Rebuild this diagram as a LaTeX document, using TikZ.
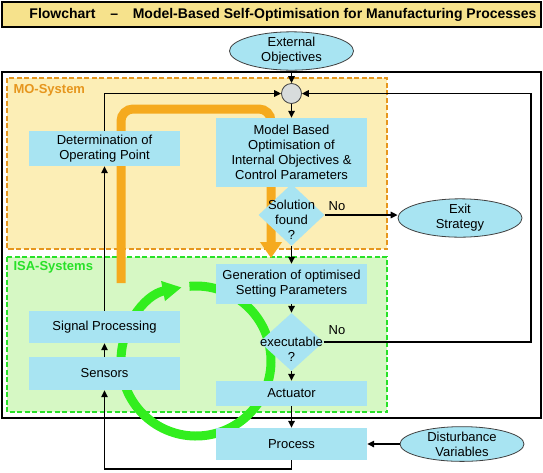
\documentclass[tikz,border=0pt]{standalone}
\usepackage{fontspec}
\setmainfont{Liberation Sans}
\usetikzlibrary{arrows.meta, shapes.geometric}
\definecolor{boxblue}{RGB}{168,228,242}
\definecolor{mofill}{RGB}{252,238,182}
\definecolor{moline}{RGB}{230,150,30}
\definecolor{isafill}{RGB}{214,248,196}
\definecolor{isaline}{RGB}{40,225,40}
\definecolor{titlefill}{RGB}{246,226,140}
\definecolor{orangebar}{RGB}{245,170,30}
\definecolor{greenarc}{RGB}{50,238,30}
\definecolor{sumgray}{RGB}{216,220,220}

\begin{document}
\begin{tikzpicture}[x=1pt, y=-1pt,
    every node/.style={font=\fontsize{13}{15}\selectfont, align=center},
    block/.style={rectangle, fill=boxblue, inner sep=0pt, minimum width=151pt},
    decision/.style={diamond, fill=boxblue, inner sep=0pt},
    terminal/.style={ellipse, draw=black!75, line width=0.8pt, fill=boxblue, inner sep=0pt, minimum width=124pt, minimum height=30pt},
    zone/.style={line width=1.3pt, dash pattern=on 5pt off 2.5pt},
    arr/.style={line width=1.5pt, -{Triangle[length=7pt, width=6.5pt]}}
  ]
  \useasboundingbox (0,0) rectangle (543,472);

  % frames
  \draw[line width=1.4pt, fill=titlefill] (2,2) rectangle (541,27);
  \node[font=\fontsize{14}{16}\selectfont\bfseries] (title) at (283,15)
    {Flowchart\hspace{1.05em}--\hspace{1.05em}Model-Based Self-Optimisation for Manufacturing Processes};
  \draw[line width=1.3pt] (2,72) rectangle (541,418);
  \draw[zone, draw=moline, fill=mofill] (7,78) rectangle (387,249);
  \draw[zone, draw=isaline, fill=isafill] (7,257) rectangle (387,412);
  \node[anchor=west, font=\fontsize{13}{15}\selectfont\bfseries, text=moline] (molabel) at (10,90) {MO-System};
  \node[anchor=west, font=\fontsize{13}{15}\selectfont\bfseries, text=isaline] (isalabel) at (10,267) {ISA-Systems};

  % big loop arrows
  \draw[orangebar, line width=9pt, rounded corners=12pt, -{Triangle[length=16pt, width=21pt]}]
    (121,283) -- (121,109) -- (271,109) -- (271,258);
  \draw[greenarc, line width=9pt, -{Triangle[length=19pt, width=19pt]}]
    (196,361) ++(-95:75) arc[start angle=-95, end angle=259, radius=75];

  % nodes
  \node[terminal] (ext) at (291.5,51) {External\\Objectives};
  \node[circle, draw=black!75, line width=0.8pt, fill=sumgray, inner sep=0pt, minimum size=20pt] (sum) at (291.5,93.5) {};
  \node[block, minimum height=69pt] (model) at (291.5,152.5)
    {Model Based\\Optimisation of\\Internal Objectives \&\\Control Parameters};
  \node[block, minimum height=35pt] (det) at (104.5,148.5) {Determination of\\Operating Point};
  \node[decision, minimum width=66pt, minimum height=62pt] (sol) at (291.5,215) {};
  \node (soltext) at (291.5,220) {Solution\\found\\?};
  \node[terminal] (exit) at (460,218) {Exit\\Strategy};
  \node (no1) at (337,206) {No};
  \node[block, minimum height=40pt] (gen) at (291.5,284) {Generation of optimised\\Setting Parameters};
  \node[decision, minimum width=64pt, minimum height=58pt] (exec) at (291.5,342) {};
  \node (exectext) at (291.5,349) {executable\\?};
  \node (no2) at (337,330) {No};
  \node[block, minimum height=32pt] (sig) at (104.5,327) {Signal Processing};
  \node[block, minimum height=33pt] (sens) at (104.5,373.5) {Sensors};
  \node[block, minimum height=25pt] (act) at (291.5,393.5) {Actuator};
  \node[block, minimum height=32pt] (proc) at (291.5,444) {Process};
  \node[terminal, minimum height=32pt] (dist) at (462,444) {Disturbance\\Variables};
  \coordinate (fbr) at (531,93.5);

  % connectors
  \draw[arr] (ext) -- (sum);
  \draw[arr] (sum) -- (model);
  \draw[arr] (sol.east) -- (sol.east -| exit.west);
  \draw[arr] (sol) -- (gen);
  \draw[arr] (gen) -- (exec);
  \draw[arr] (exec) -- (act);
  \draw[arr] (exec.east) -| (fbr) -- (sum.east);
  \draw[arr] (act) -- (proc);
  \draw[arr] (dist) -- (proc);
  \draw[arr] (proc.south) -- ++(0,9) -| (sens.south);
  \draw[arr] (sens) -- (sig);
  \draw[arr] (sig) -- (det);
  \draw[arr] (det.north) |- (sum.west);
\end{tikzpicture}
\end{document}
